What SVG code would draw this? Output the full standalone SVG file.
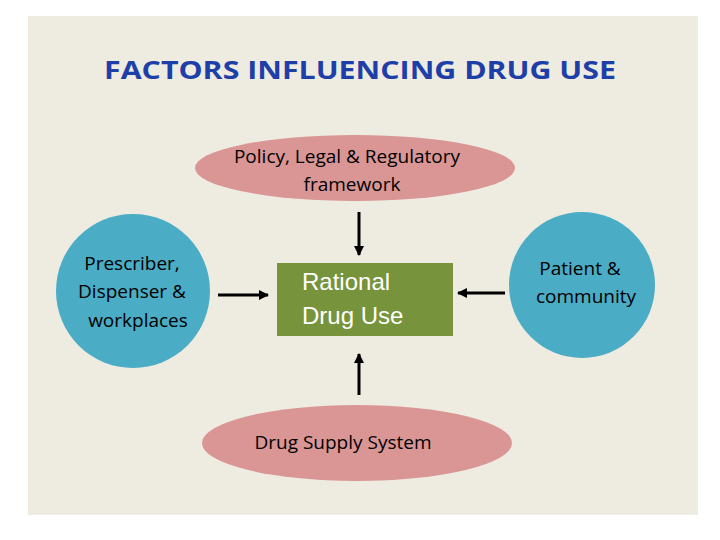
<svg xmlns="http://www.w3.org/2000/svg" width="720" height="540" viewBox="0 0 720 540">
<style>
.t{font-family:"Open Sans","Liberation Sans",sans-serif;font-size:19px;fill:#000;text-anchor:middle}
.c{stroke:#000;stroke-width:3;fill:none}
</style>
<defs><marker id="a" viewBox="0 0 10 10" refX="9" refY="5" markerWidth="3.5" markerHeight="3.5" orient="auto"><path d="M0,0L10,5L0,10z" fill="#000"/></marker></defs>
<rect width="720" height="540" fill="#fff"/>
<rect x="28" y="16" width="670" height="499" fill="#eeebe1"/>
<text x="360" y="79" font-family="Open Sans,Liberation Sans,sans-serif" font-size="25" font-weight="bold" fill="#1f3fa8" text-anchor="middle" textLength="512" lengthAdjust="spacingAndGlyphs">FACTORS INFLUENCING DRUG USE</text>
<g id="policy"><ellipse cx="355" cy="168" rx="160" ry="33" fill="#d99694"/><text class="t" x="347" y="163">Policy, Legal &amp; Regulatory</text><text class="t" x="352" y="191">framework</text></g>
<g id="supply"><ellipse cx="357" cy="443" rx="155" ry="38" fill="#d99694"/><text class="t" x="343" y="449">Drug Supply System</text></g>
<g id="prescriber"><circle cx="133" cy="291" r="77" fill="#4bacc6"/><text class="t" x="132" y="270">Prescriber,</text><text class="t" x="132" y="298">Dispenser  &amp;</text><text class="t" x="138" y="327">workplaces</text></g>
<g id="patient"><circle cx="582" cy="285" r="73" fill="#4bacc6"/><text class="t" x="580" y="275">Patient &amp;</text><text class="t" x="586" y="303">community</text></g>
<g id="rational"><rect x="277" y="263" width="176" height="73" fill="#77933c"/><text x="302" y="290" font-family="Liberation Sans,sans-serif" font-size="24" fill="#fff">Rational</text><text x="302" y="324" font-family="Liberation Sans,sans-serif" font-size="24" fill="#fff">Drug Use</text></g>
<g id="connectors">
<line class="c" x1="359" y1="212" x2="359" y2="255" marker-end="url(#a)"/>
<line class="c" x1="359" y1="395" x2="359" y2="354" marker-end="url(#a)"/>
<line class="c" x1="218" y1="295" x2="268" y2="295" marker-end="url(#a)"/>
<line class="c" x1="505" y1="293" x2="458" y2="293" marker-end="url(#a)"/>
</g>
</svg>
